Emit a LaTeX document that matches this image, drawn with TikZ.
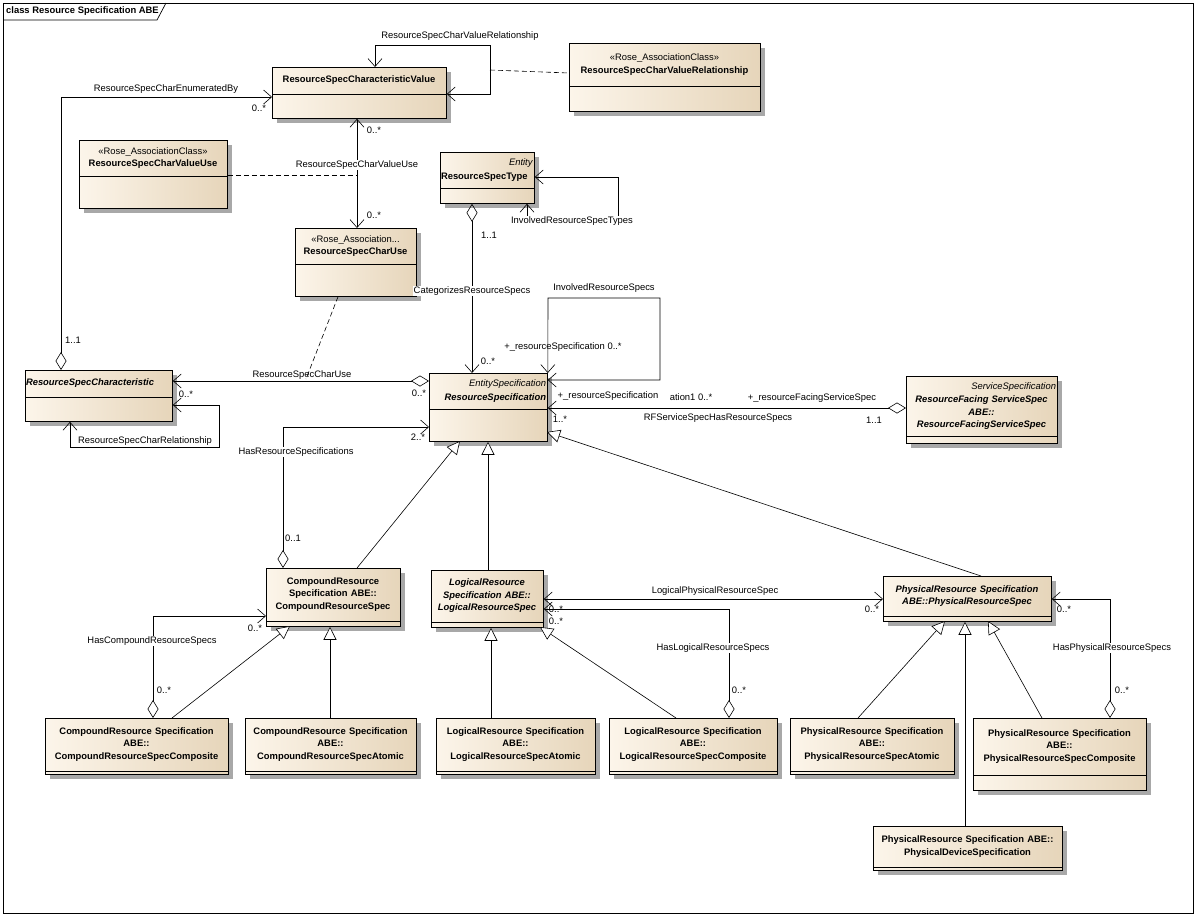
\documentclass[tikz,border=0pt]{standalone}
\usepackage{fontspec}
\setmainfont{Liberation Sans}
\usetikzlibrary{arrows.meta}
\definecolor{boxL}{HTML}{FCF5EA}
\definecolor{boxR}{HTML}{E6D5BA}
\definecolor{shad}{HTML}{A8A8A8}
\tikzset{
 box/.style={draw, line width=0.8pt, left color=boxL, right color=boxR, inner sep=0pt, rectangle},
 txt/.style={font=\fontsize{9.4}{12.5}\selectfont, inner sep=0pt},
 lbl/.style={font=\fontsize{9.4}{11}\selectfont, inner sep=1pt, fill=white},
 lblc/.style={font=\fontsize{9.4}{11}\selectfont, inner sep=1pt},
 con/.style={line width=0.6pt},
 nav/.style={-{Straight Barb[length=8pt,width=14pt]}},
 navb/.style={{Straight Barb[length=8pt,width=14pt]}-{Straight Barb[length=8pt,width=14pt]}},
 agg/.style={{Diamond[open,length=18pt,width=11pt]}-{Straight Barb[length=8pt,width=14pt]}},
 gen/.style={-{Triangle[open,length=13pt,width=13pt,fill=white]}},
 dashl/.style={line width=0.6pt, dash pattern=on 5pt off 3pt},
}
\newcommand\umlbox[8]{%
 \fill[shad] (#2+5,#3+5) rectangle (#4+5,#5+5);
 \node[box, minimum width={#4-#2}, minimum height={#5-#3}, anchor=north west] (#1) at (#2,#3) {};
 \draw[line width=0.8pt] (#2,#6) -- (#4,#6);
 \node[txt, align=#8, text width={#4-#2-2}] (#1-t) at ({(#2+#4)/2},{(#3+#6)/2}) {#7};
}
\begin{document}
\begin{tikzpicture}[x=1pt,y=-1pt]
\fill[white] (0,0) rectangle (1196,916);
\useasboundingbox (0,0) rectangle (1196,916);
\draw[line width=0.7pt] (3,3) rectangle (1193,913);
\draw[line width=0.7pt] (3,20) -- (157,20) -- (166,3);
\node[txt, anchor=west, font=\fontsize{9.4}{10}\selectfont\bfseries] (title) at (6,11) {class Resource Specification ABE};

% classes
\umlbox{rscv}{272}{67}{446}{118}{94}{\textbf{ResourceSpecCharacteristicValue}}{center}
\umlbox{rscvr}{569}{43}{760}{111}{86}{«Rose\_AssociationClass»\\\textbf{ResourceSpecCharValueRelationship}}{center}
\umlbox{rscvu}{79}{140}{227}{208}{176}{«Rose\_AssociationClass»\\\textbf{ResourceSpecCharValueUse}}{center}
\umlbox{rst}{440}{152}{534}{203}{188}{\hfill\textit{Entity}\\[2pt]\textbf{ResourceSpecType}}{left}
\umlbox{rscu}{295}{228}{416}{296}{264}{«Rose\_Association...\\\textbf{ResourceSpecCharUse}}{center}
\umlbox{rsc}{25}{370}{172}{421}{397}{\textbf{\textit{ResourceSpecCharacteristic}}}{left}
\umlbox{rs}{429}{373}{547}{441}{409}{\hfill\textit{EntitySpecification}\\[2pt]\hfill\textbf{\textit{ResourceSpecification}}}{left}
\umlbox{rfss}{906}{376}{1057}{443}{436}{\hfill\textit{ServiceSpecification}\\[1pt]\textbf{\textit{ResourceFacing ServiceSpec}}\\\textbf{\textit{ABE::}}\\\textbf{\textit{ResourceFacingServiceSpec}}}{center}
\umlbox{crs}{266}{568}{400}{626}{621}{\textbf{CompoundResource}\\\textbf{Specification ABE::}\\\textbf{CompoundResourceSpec}}{center}
\umlbox{lrs}{431}{570}{543}{627}{622}{\textbf{\textit{LogicalResource}}\\\textbf{\textit{Specification ABE::}}\\\textbf{\textit{LogicalResourceSpec}}}{center}
\umlbox{prs}{883}{576}{1051}{621}{616}{\textbf{\textit{PhysicalResource Specification}}\\\textbf{\textit{ABE::PhysicalResourceSpec}}}{center}
\umlbox{crsc}{45}{718}{228}{774}{771}{\textbf{CompoundResource  Specification}\\\textbf{ABE::}\\\textbf{CompoundResourceSpecComposite}}{center}
\umlbox{crsa}{245}{718}{416}{774}{771}{\textbf{CompoundResource  Specification}\\\textbf{ABE::}\\\textbf{CompoundResourceSpecAtomic}}{center}
\umlbox{lrsa}{436}{718}{595}{774}{771}{\textbf{LogicalResource  Specification}\\\textbf{ABE::}\\\textbf{LogicalResourceSpecAtomic}}{center}
\umlbox{lrsc}{609}{718}{777}{774}{771}{\textbf{LogicalResource  Specification}\\\textbf{ABE::}\\\textbf{LogicalResourceSpecComposite}}{center}
\umlbox{prsa}{790}{718}{954}{774}{771}{\textbf{PhysicalResource  Specification}\\\textbf{ABE::}\\\textbf{PhysicalResourceSpecAtomic}}{center}
\umlbox{prsc}{973}{718}{1146}{790}{775}{\textbf{PhysicalResource  Specification}\\\textbf{ABE::}\\\textbf{PhysicalResourceSpecComposite}}{center}
\umlbox{pds}{873}{826}{1062}{870}{867}{\textbf{PhysicalResource Specification ABE::}\\\textbf{PhysicalDeviceSpecification}}{center}

% connectors
\coordinate (c1) at (375,45); \coordinate (c2) at (490,45); \coordinate (c3) at (490,94);
\draw[con,navb] (rscv.north -| c1) |- (c2) -- (c3) -- (rscv.east |- c3);
\node[lblc] (l1) at (460,36) {ResourceSpecCharValueRelationship};
\draw[dashl] (490,70) -- (rscvr.west |- 0,73);

\coordinate (c4) at (61,97);
\draw[con,agg] (rsc.north -| c4) -- (c4) -- (rscv.west |- c4);
\node[lblc] (l2) at (166,89) {ResourceSpecCharEnumeratedBy};
\node[lblc] (m1) at (259,108) {0..*};
\node[lblc] (m2) at (73,340) {1..1};

\coordinate (c5) at (357,0);
\draw[con,navb] (rscv.south -| c5) -- (rscu.north -| c5);
\draw[dashl] (rscvu.east |- 0,175) -- (357,175);
\node[lbl] (l3) at (357,165) {ResourceSpecCharValueUse};
\node[lblc] (m3) at (374,130) {0..*};
\node[lblc] (m4) at (374,215) {0..*};

\coordinate (c6) at (472,0);
\draw[con,agg] (rst.south -| c6) -- (rs.north -| c6);
\node[lbl] (l4) at (472,291) {CategorizesResourceSpecs};
\node[lblc] (m5) at (489,235) {1..1};
\node[lblc] (m6) at (488,361) {0..*};

\coordinate (c7) at (618,177); \coordinate (c8) at (618,225); \coordinate (c9) at (527,225);
\draw[con,navb] (rst.east |- c7) -- (c7) -- (c8) -- (c9) -- (rst.south -| c9);
\node[lbl] (l5) at (572,221) {InvolvedResourceSpecTypes};

\coordinate (d1) at (660,380); \coordinate (d2) at (660,298); \coordinate (d3) at (548,298);
\draw[con,navb] (rs.east |- d1) -- (d1) -- (d2) -- (d3) -- (rs.north east);
\node[lblc] (l6) at (604,288) {InvolvedResourceSpecs};
\node[lblc] (m7) at (563,347) {+\_resourceSpecification 0..*};

\coordinate (d4) at (0,381);
\draw[con,agg] (rs.west |- d4) -- (rsc.east |- d4);
\node[lblc] (l7) at (302,375) {ResourceSpecCharUse};
\node[lblc] (m8) at (186,394) {0..*};
\node[lblc] (m9) at (419,393) {0..*};
\draw[dashl] (rscu.south -| 338,0) -- (306,379);

\coordinate (d5) at (219,405); \coordinate (d6) at (219,447); \coordinate (d7) at (70,447);
\draw[con,navb] (rsc.east |- d5) -- (d5) -- (d6) -- (d7) -- (rsc.south -| d7);
\node[lblc] (l8) at (145,441) {ResourceSpecCharRelationship};

\coordinate (d8) at (283,427);
\draw[con,agg] (crs.north -| d8) -- (d8) -- (rs.west |- d8);
\node[lbl] (l9) at (296,452) {HasResourceSpecifications};
\node[lblc] (m10) at (418,437) {2..*};
\node[lblc] (m11) at (293,538) {0..1};

\coordinate (d9) at (0,408);
\draw[con,agg] (rfss.west |- d9) -- (rs.east |- d9);
\node[lblc] (l10) at (608,396) {+\_resourceSpecification};
\node[lblc] (l11) at (691,397) {ation1 0..*};
\node[lblc] (l12) at (812,398) {+\_resourceFacingServiceSpec};
\node[lblc] (l13) at (718,418) {RFServiceSpecHasResourceSpecs};
\node[lblc] (m12) at (560,419) {1..*};
\node[lblc] (m13) at (874,420) {1..1};

% generalizations to RS
\draw[con,gen] (crs.north -| 357,0) -- (460,441);
\draw[con,gen] (lrs.north -| 488,0) -- (rs.south -| 488,0);
\draw[con,gen] (prs.north -| 981,0) -- (547,432);

\coordinate (e1) at (0,599);
\draw[con,navb] (lrs.east |- e1) -- (prs.west |- e1);
\node[lblc] (l14) at (715,591) {LogicalPhysicalResourceSpec};
\node[lblc] (m14) at (556,609) {0..*};
\node[lblc] (m15) at (872,609) {0..*};

\coordinate (e2) at (729,609);
\draw[con,agg] (lrsc.north -| e2) -- (e2) -- (lrs.east |- e2);
\node[lbl] (l15) at (713,648) {HasLogicalResourceSpecs};
\node[lblc] (m16) at (556,621) {0..*};
\node[lblc] (m17) at (739,690) {0..*};

\coordinate (e3) at (153,616);
\draw[con,agg] (crsc.north -| e3) -- (e3) -- (crs.west |- e3);
\node[lbl] (l16) at (152,641) {HasCompoundResourceSpecs};
\node[lblc] (m18) at (255,628) {0..*};
\node[lblc] (m19) at (164,690) {0..*};

\coordinate (e4) at (1110,599);
\draw[con,agg] (prsc.north -| e4) -- (e4) -- (prs.east |- e4);
\node[lbl] (l17) at (1112,648) {HasPhysicalResourceSpecs};
\node[lblc] (m20) at (1064,609) {0..*};
\node[lblc] (m21) at (1122,690) {0..*};

% generalizations bottom
\draw[con,gen] (crsc.north -| 172,0) -- (290,626);
\draw[con,gen] (crsa.north -| 330,0) -- (crs.south -| 330,0);
\draw[con,gen] (lrsa.north -| 491,0) -- (lrs.south -| 491,0);
\draw[con,gen] (lrsc.north -| 676,0) -- (540,627);
\draw[con,gen] (prsa.north -| 858,0) -- (945,621);
\draw[con,gen] (pds.north -| 965,0) -- (prs.south -| 965,0);
\draw[con,gen] (prsc.north -| 1042,0) -- (988,621);
\end{tikzpicture}
\end{document}
